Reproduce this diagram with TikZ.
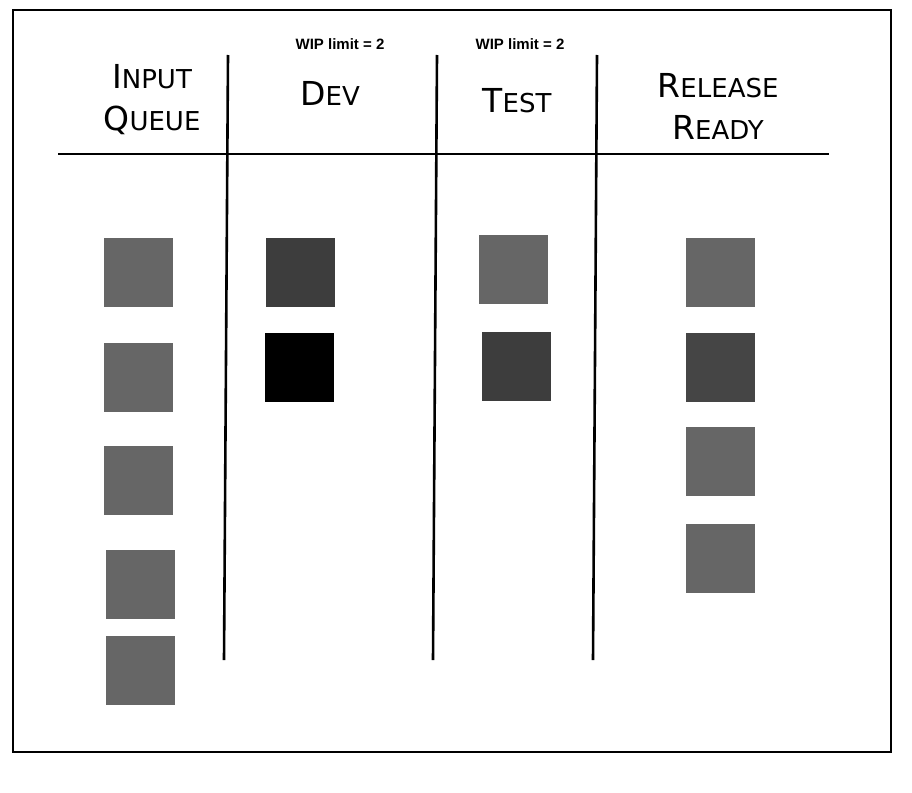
\documentclass[tikz,border=0pt]{standalone}
\usepackage{fontspec}
\setmainfont{Liberation Sans}
\newfontfamily\hd{DejaVu Sans}
\newcommand{\bigc}[1]{{\fontsize{33}{42}\selectfont #1}}
\newcommand{\smc}[1]{{\fontsize{26}{42}\selectfont #1}}
\begin{document}
\begin{tikzpicture}[x=1pt,y=-1pt,
  card/.style={minimum width=69pt,minimum height=69pt,inner sep=0pt,anchor=north west},
  lt/.style={card,fill=black!60},
  mid/.style={card,fill=black!76},
  blk/.style={card,fill=black},
  col/.style={line width=2.6pt},
  hdr/.style={align=center,font=\hd\fontsize{26}{42}\selectfont},
  wip/.style={font=\bfseries\fontsize{15}{15}\selectfont}]
\useasboundingbox (0,0) rectangle (912,792);
\fill[white] (0,0) rectangle (912,792);
\draw[line width=1.5pt] (13,10) rectangle (891,752);
\coordinate (hl) at (58,154); \coordinate (hr) at (829,154);
\draw[col] (hl) -- (hr);
\coordinate (a1) at (228,55); \coordinate (a2) at (224,660);
\coordinate (b1) at (437,55); \coordinate (b2) at (433,660);
\coordinate (c1) at (597,55); \coordinate (c2) at (593,660);
\draw[col] (a1) -- (a2); \draw[col] (b1) -- (b2); \draw[col] (c1) -- (c2);
\node[hdr] (h1) at (152,100) {\bigc{I}\smc{NPUT}\\\bigc{Q}\smc{UEUE}};
\node[hdr] (h2) at (330,93) {\bigc{D}\smc{EV}};
\node[hdr] (h3) at (517,101) {\bigc{T}\smc{EST}};
\node[hdr] (h4) at (718,106) {\bigc{R}\smc{ELEASE}\\\bigc{R}\smc{EADY}};
\node[wip] (w1) at (340,44) {WIP limit = 2};
\node[wip] (w2) at (520,44) {WIP limit = 2};
\node[lt] (i1) at (104,238) {};
\node[lt] (i2) at (104,343) {};
\node[lt] (i3) at (104,446) {};
\node[lt] (i4) at (106,550) {};
\node[lt] (i5) at (106,636) {};
\node[mid] (d1) at (266,238) {};
\node[blk] (d2) at (265,333) {};
\node[lt] (t1) at (479,235) {};
\node[mid] (t2) at (482,332) {};
\node[lt] (r1) at (686,238) {};
\node[card,fill=black!73] (r2) at (686,333) {};
\node[lt] (r3) at (686,427) {};
\node[lt] (r4) at (686,524) {};
\end{tikzpicture}
\end{document}
